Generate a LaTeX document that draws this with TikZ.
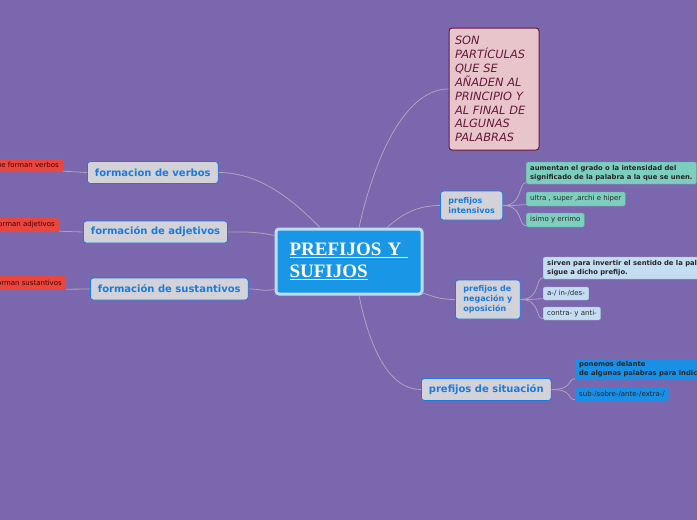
\documentclass[tikz,border=0pt]{standalone}
\usepackage{fontspec}
\setsansfont{DejaVu Sans}
\newfontfamily\titulofont{Liberation Serif}
\usetikzlibrary{positioning}

\begin{document}
\begin{tikzpicture}[x=1pt,y=-1pt,
    rama/.style={draw=ramagris, line width=0.8pt},
    central/.style={fill=azulcentral, draw=bordecentral, line width=3pt, rounded corners=3pt,
        text=white, font=\titulofont\bfseries\fontsize{19}{22}\selectfont, align=left,
        text width=119pt, inner xsep=13.5pt, minimum height=65pt},
    definicion/.style={fill=rosa, draw=granate, line width=1pt, rounded corners=3pt,
        text=granate, font=\sffamily\itshape\fontsize{11.4}{13.9}\selectfont, align=left,
        text width=78pt, inner xsep=6pt, minimum height=122pt},
    tema/.style={fill=gristema, draw=azultema, line width=0.8pt, rounded corners=3pt,
        text=azultema, font=\sffamily\bfseries\fontsize{10}{12}\selectfont,
        inner xsep=7.5pt, minimum height=22pt},
    temachico/.style={tema, font=\sffamily\bfseries\fontsize{8}{10}\selectfont, align=left, inner xsep=8pt},
    hoja/.style={rounded corners=1.5pt, font=\sffamily\fontsize{7}{9}\selectfont, align=left,
        inner xsep=4pt, inner ysep=2pt, minimum height=14pt, text=black!85},
    hojaverde/.style={hoja, fill=verde, draw=verde!80!black, line width=0.4pt},
    hojaceleste/.style={hoja, fill=celeste, draw=celeste!80!black, line width=0.4pt},
    hojaazul/.style={hoja, fill=azulhoja},
    hojaroja/.style={hoja, fill=rojo, text=black!70!red},
    negrita/.style={font=\sffamily\bfseries\fontsize{6.8}{9}\selectfont, minimum height=22pt}]

    % Colores
    \definecolor{fondo}{RGB}{123,103,174}
    \definecolor{ramagris}{RGB}{172,166,188}
    \definecolor{azulcentral}{RGB}{26,150,230}
    \definecolor{bordecentral}{RGB}{190,221,242}
    \definecolor{rosa}{RGB}{232,197,203}
    \definecolor{granate}{RGB}{100,24,58}
    \definecolor{gristema}{RGB}{210,210,216}
    \definecolor{azultema}{RGB}{27,122,224}
    \definecolor{verde}{RGB}{126,206,192}
    \definecolor{celeste}{RGB}{197,221,242}
    \definecolor{azulhoja}{RGB}{26,143,230}
    \definecolor{rojo}{RGB}{232,70,62}

    % Fondo
    \useasboundingbox (0,0) rectangle (697,520);
    \fill[fondo] (0,0) rectangle (697,520);

    % Nodo central
    \node[central, anchor=north west] (central) at (274.5,227.5)
        {\underline{PREFIJOS Y\ }\\\underline{SUFIJOS}};

    % Definicion
    \node[definicion, anchor=north west] (definicion) at (448.5,27.5)
        {SON\\PARTÍCULAS\\QUE SE\\AÑADEN AL\\PRINCIPIO Y\\AL FINAL DE\\ALGUNAS\\PALABRAS};

    % Ramas derechas
    \node[temachico, anchor=west, minimum height=29pt] (intensivos) at (440,205.5) {prefijos\\intensivos};
    \node[temachico, anchor=west, minimum height=39pt] (negacion) at (455,299.5) {prefijos de\\negación y\\oposición};
    \node[tema, anchor=west] (situacion) at (421,389.5) {prefijos de situación};

    % Ramas izquierdas
    \node[tema, anchor=west] (verbos) at (87,172.5) {formacion de verbos};
    \node[tema, anchor=west] (adjetivos) at (83,232) {formación de adjetivos};
    \node[tema, anchor=west] (sustantivos) at (90,289) {formación de sustantivos};

    % Hojas de prefijos intensivos
    \node[hojaverde, negrita, anchor=west] (aumentan) at (526,173)
        {aumentan el grado o la intensidad del\\significado de la palabra a la que se unen.};
    \node[hojaverde, anchor=west] (ultra) at (526,199) {ultra , super ,archi e hiper};
    \node[hojaverde, anchor=west] (isimo) at (526,220) {isimo y errimo};

    % Hojas de negacion
    \node[hojaceleste, negrita, anchor=west] (sirven) at (543,268)
        {sirven para invertir el sentido de la palabra que\\sigue a dicho prefijo.};
    \node[hojaceleste, anchor=west, minimum height=13pt] (ain) at (543,293.5) {a-/ in-/des-};
    \node[hojaceleste, anchor=west, minimum height=13pt] (contra) at (543,313.5) {contra- y anti-};

    % Hojas de situacion
    \node[hojaazul, negrita, anchor=west, minimum height=21pt] (ponemos) at (575,369.5)
        {ponemos delante\\de algunas palabras para indican lugar};
    \node[hojaazul, anchor=west] (sub) at (575,394) {sub-/sobre-/ante-/extra-/};

    % Hojas rojas
    \node[hojaroja, anchor=east, minimum height=13pt] (rverbos) at (63,165.5) {que forman verbos};
    \node[hojaroja, anchor=east] (radjetivos) at (59,225) {forman adjetivos};
    \node[hojaroja, anchor=east] (rsustantivos) at (66,283) {forman sustantivos};

    % Conexiones del centro
    \draw[rama] ([xshift=10pt]central.north) .. controls +(18,-80) and +(-40,0) .. (definicion.west);
    \draw[rama] ([xshift=38pt]central.north) .. controls +(14,-12) and +(-25,0) .. (intensivos.west);
    \draw[rama] ([xshift=-2pt,yshift=3pt]central.south east) .. controls +(12,4) and +(-15,0) .. (negacion.west);
    \draw[rama] ([xshift=10pt]central.south) .. controls +(12,58) and +(-30,0) .. (situacion.west);
    \draw[rama] ([xshift=-29pt]central.north) .. controls +(-22,-22) and +(45,0) .. (verbos.east);
    \draw[rama] ([yshift=-8pt]central.north west) .. controls +(-20,-4) and +(20,0) .. (adjetivos.east);
    \draw[rama] ([yshift=6pt]central.south west) .. controls +(-12,2) and +(12,0) .. (sustantivos.east);

    % Conexiones de las hojas
    \foreach \hoja in {aumentan, ultra, isimo}
        \draw[rama] (intensivos.east) .. controls +(20,0) and +(-8,0) .. ([yshift=1.5pt]\hoja.south west);
    \foreach \hoja in {sirven, ain, contra}
        \draw[rama] (negacion.east) .. controls +(20,0) and +(-8,0) .. ([yshift=1.5pt]\hoja.south west);
    \foreach \hoja in {ponemos, sub}
        \draw[rama] (situacion.east) .. controls +(22,0) and +(-8,0) .. ([yshift=1.5pt]\hoja.south west);
    \draw[rama] (verbos.west) -- ([yshift=1pt]rverbos.south east);
    \draw[rama] (adjetivos.west) -- ([yshift=1pt]radjetivos.south east);
    \draw[rama] (sustantivos.west) -- ([yshift=1pt]rsustantivos.south east);
\end{tikzpicture}
\end{document}
